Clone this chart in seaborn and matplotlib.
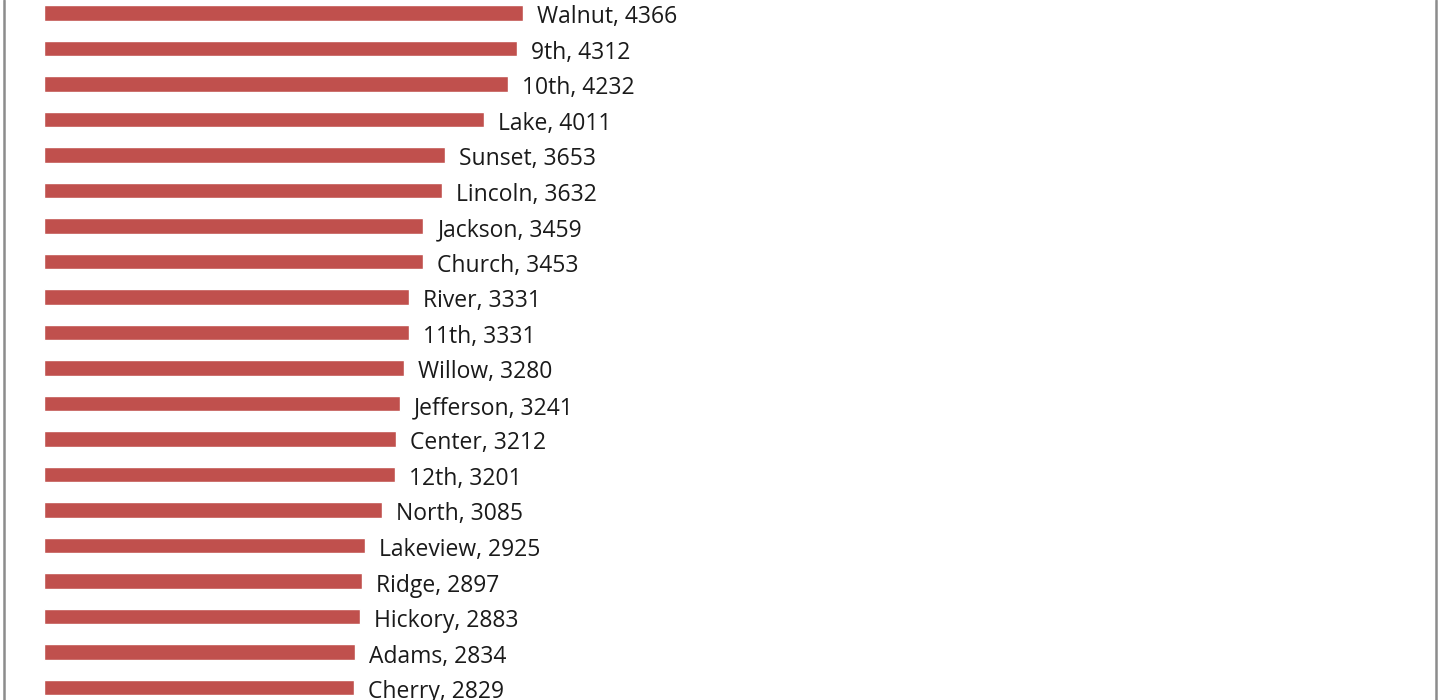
import matplotlib
matplotlib.use('Agg')
import matplotlib.pyplot as plt
from matplotlib.lines import Line2D
import seaborn as sns
import pandas as pd

streets = ['Walnut', '9th', '10th', 'Lake', 'Sunset', 'Lincoln', 'Jackson', 'Church',
           'River', '11th', 'Willow', 'Jefferson', 'Center', '12th', 'North', 'Lakeview',
           'Ridge', 'Hickory', 'Adams', 'Cherry']
counts = [4366, 4312, 4232, 4011, 3653, 3632, 3459, 3453,
          3331, 3331, 3280, 3241, 3212, 3201, 3085, 2925,
          2897, 2883, 2834, 2829]

df = pd.DataFrame({'street': streets, 'count': counts})

sns.set_style('white')
plt.rcParams['font.family'] = ['Open Sans', 'DejaVu Sans']

fig = plt.figure(figsize=(14.4, 7), dpi=100)
ax = fig.add_axes([44 / 1440, 0, (1435 - 44) / 1440, 1])

sns.barplot(data=df, y='street', x='count', orient='h', color='#C0504D',
            width=0.44, saturation=1, ax=ax)

# labels "Name, value" just right of each bar
for i, (s, c) in enumerate(zip(streets, counts)):
    ax.annotate('%s, %d' % (s, c), xy=(c, i), xytext=(10, -3.2),
                textcoords='offset points', va='center', ha='left',
                fontsize=16.5, color='#1a1a1a')

ax.set_xlim(0, 12680)
ax.set_ylim(19.35, -0.366)
ax.axis('off')

# frame edges of the original chart
for x in [4 / 1440, 1436 / 1440]:
    fig.add_artist(Line2D([x, x], [0, 1], transform=fig.transFigure,
                          color='#8c8c8c', linewidth=1.8))

fig.savefig('out.png', dpi=100, facecolor='white')
